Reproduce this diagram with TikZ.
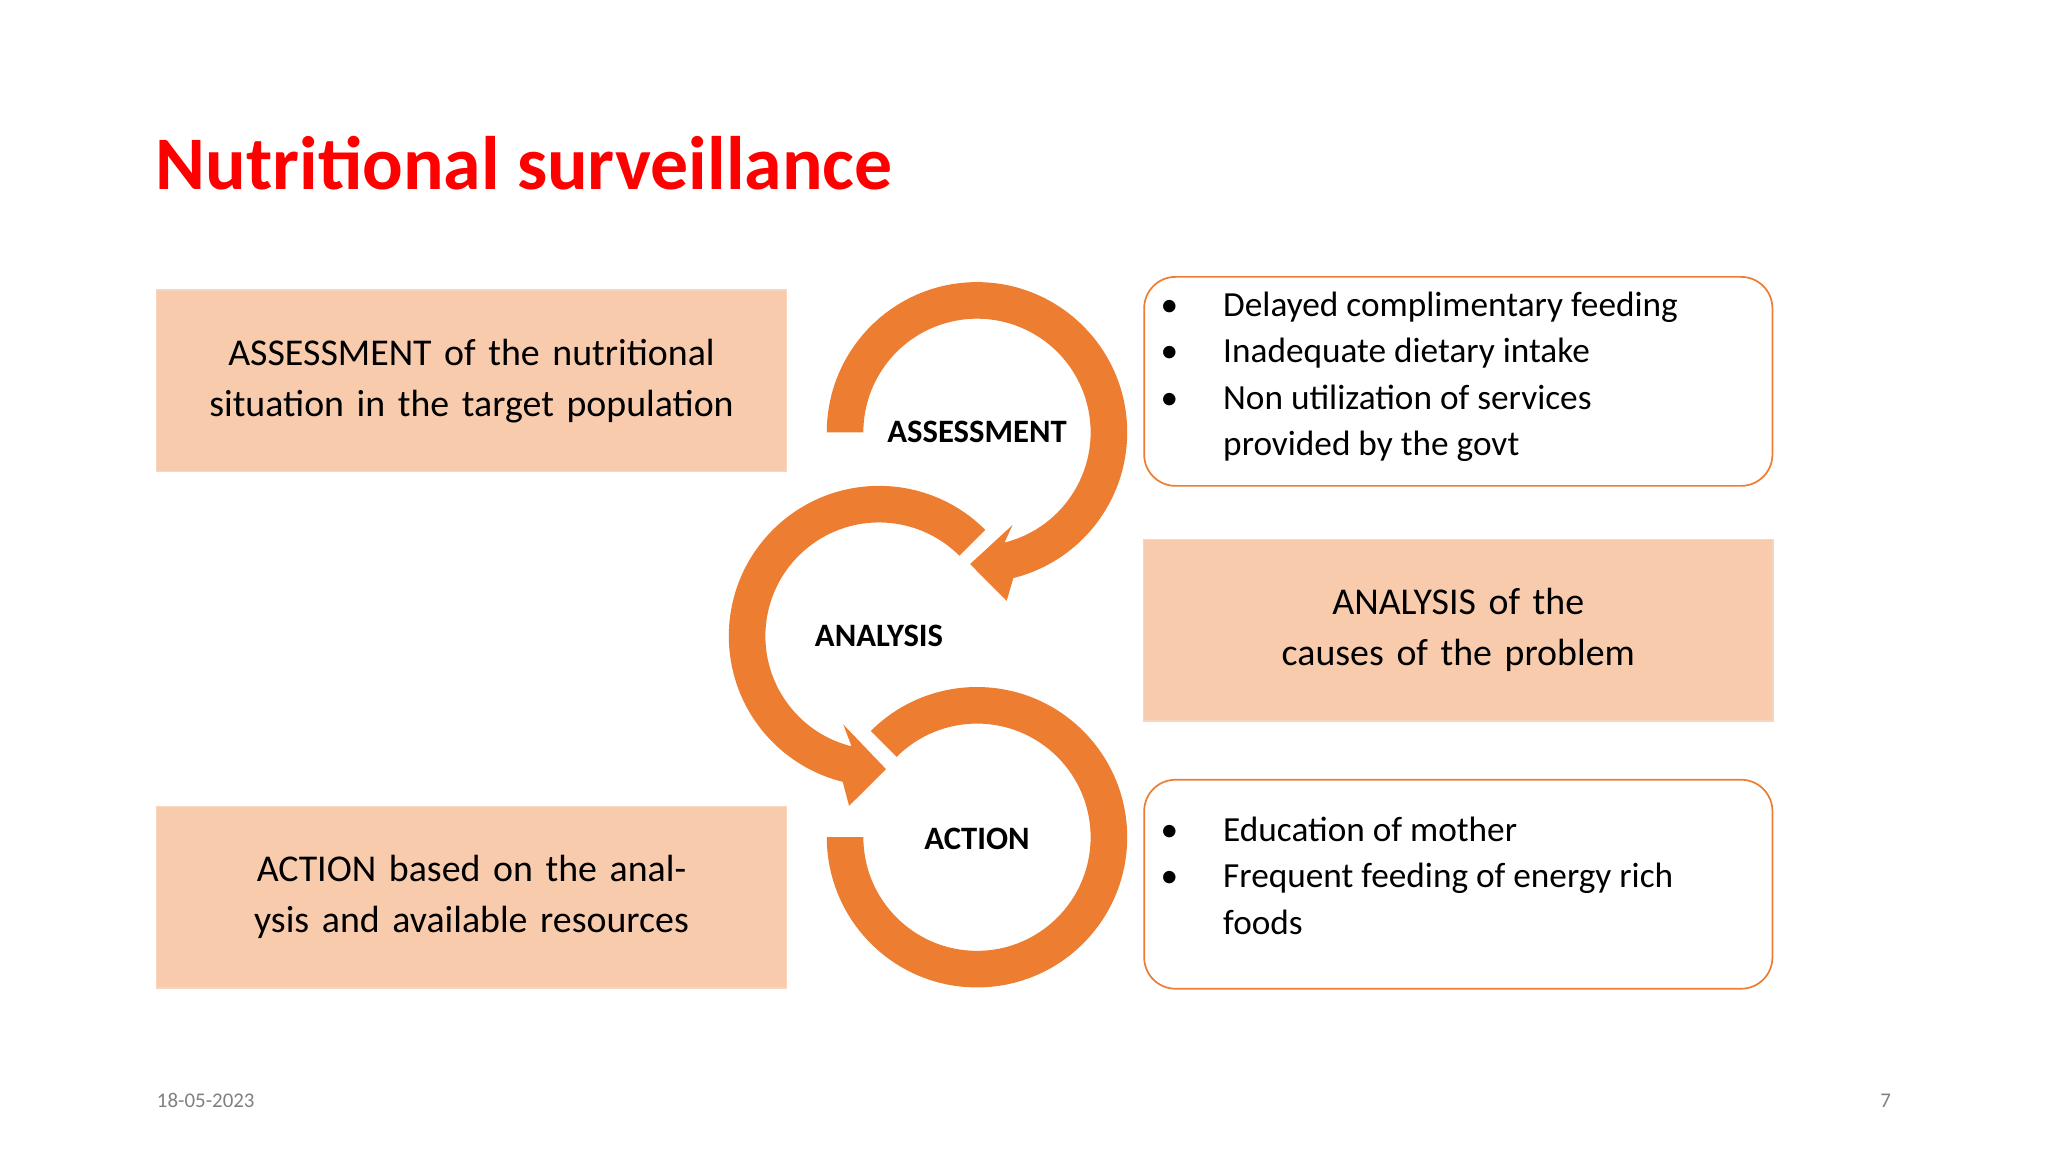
\documentclass[tikz,border=0pt]{standalone}
\usepackage{fontspec}
\setmainfont{Carlito}
\usetikzlibrary{calc}
\definecolor{ringc}{HTML}{ED7D31}
\definecolor{peach}{HTML}{F8CBAD}
\definecolor{titlered}{HTML}{FF0000}
\begin{document}
\begin{tikzpicture}[x=1pt,y=1pt,
  peachbox/.style={fill=peach,draw=peach!80!white,line width=1pt,minimum width=482pt,minimum height=139pt,align=center,font=\fontsize{29}{39}\selectfont,text width=470pt},
  listbox/.style={draw=ringc,line width=1.3pt,rounded corners=24pt,minimum width=481pt,minimum height=160pt},
  ringlabel/.style={font=\bfseries\fontsize{25}{30}\selectfont},
  bullets/.style={align=left,font=\fontsize{27}{35.5}\selectfont,anchor=north west}]
\useasboundingbox (0,0) rectangle (1568,-882);
\fill[white] (0,0) rectangle (1568,-882);
\node[anchor=base west,text=titlered,font=\bfseries\fontsize{58}{64}\selectfont,inner sep=0] (title) at (119,-145) {Nutritional surveillance};
% boxes
\node[peachbox] (b1) at (361,-291.5) {ASSESSMENT of the nutritional situation in the target population};
\node[peachbox] (b2) at (1116.5,-482.5) {ANALYSIS of the causes of the problem};
\node[peachbox] (b3) at (361,-687) {ACTION based on the analysis and available resources};
\node[listbox] (l1) at (1116.5,-292) {};
\node[listbox] (l2) at (1116.5,-677) {};
\node[bullets] (t1) at (885,-220) {%
\makebox[48pt][l]{\textbullet}Delayed complimentary feeding\\
\makebox[48pt][l]{\textbullet}Inadequate dietary intake\\
\makebox[48pt][l]{\textbullet}Non utilization of services\\
\makebox[48pt][l]{}provided by the govt};
\node[bullets] (t2) at (885,-622) {%
\makebox[48pt][l]{\textbullet}Education of mother\\
\makebox[48pt][l]{\textbullet}Frequent feeding of energy rich\\
\makebox[48pt][l]{}foods};
% rings
\coordinate (cA) at (748,-331);
\coordinate (cB) at (673,-487);
\coordinate (cC) at (748,-641);
\fill[ringc] ($(cC)+(135:115)$) arc[start angle=135,end angle=-180,radius=115]
  -- ($(cC)+(180:87)$) arc[start angle=-180,end angle=135,radius=87] -- cycle;
\fill[ringc] ($(cB)+(45:115)$) arc[start angle=45,end angle=256,radius=115]
  -- ($(cB)+(260:132)$) -- ($(cB)+(273:102)$) -- ($(cB)+(248:73)$)
  -- ($(cB)+(256:87)$) arc[start angle=256,end angle=45,radius=87] -- cycle;
\fill[ringc] ($(cA)+(180:115)$) arc[start angle=180,end angle=-76,radius=115]
  -- ($(cA)+(-80:131)$) -- ($(cA)+(-93:101)$) -- ($(cA)+(-69:76)$)
  -- ($(cA)+(-76:87)$) arc[start angle=-76,end angle=180,radius=87] -- cycle;
\node[ringlabel] (la) at (748,-331) {ASSESSMENT};
\node[ringlabel] (lb) at (673,-487) {ANALYSIS};
\node[ringlabel] (lc) at (748,-642) {ACTION};
\node[anchor=base west,text=gray,font=\fontsize{16}{19}\selectfont,inner sep=0] (date) at (120,-848) {18-05-2023};
\node[anchor=base east,text=gray,font=\fontsize{16}{19}\selectfont,inner sep=0] (pg) at (1448,-848) {7};
\end{tikzpicture}
\end{document}
